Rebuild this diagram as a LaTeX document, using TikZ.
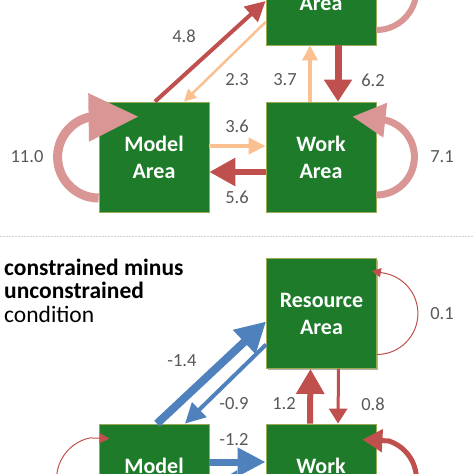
\documentclass[tikz,border=0pt]{standalone}
\usepackage{fontspec}
\setmainfont{Carlito}
\usetikzlibrary{arrows.meta,shadows}
\definecolor{AreaGreen}{HTML}{1E7B2A}
\definecolor{AreaRim}{HTML}{9AAA55}
\definecolor{FlowRed}{HTML}{C0504D}
\definecolor{FlowPeach}{HTML}{FAC090}
\definecolor{FlowPink}{HTML}{D99694}
\definecolor{FlowBlue}{HTML}{4F81BD}
\definecolor{LabelGray}{HTML}{595959}
\definecolor{RuleGray}{HTML}{D0D0D0}
\tikzset{
  area/.style={draw=AreaRim,fill=AreaGreen,line width=0.8pt,minimum size=110pt,
    inner sep=0pt,align=center,text=white,font=\bfseries\fontsize{22}{27}\selectfont,
    drop shadow={shadow xshift=1.2pt,shadow yshift=-1.2pt,opacity=0.3,fill=black}},
  weight/.style={text=LabelGray,inner sep=0pt,font=\fontsize{18.5}{22}\selectfont},
  heading/.style={anchor=base west,inner sep=0pt,font=\fontsize{23.5}{24}\selectfont},
  redflow/.style={draw=FlowRed},
  peachflow/.style={draw=FlowPeach},
  pinkflow/.style={draw=FlowPink},
  blueflow/.style={draw=FlowBlue},
  hd/.style 2 args={-{Triangle[width=#1,length=#2]}},
  rule/.style={draw=RuleGray,line width=0.8pt,dash pattern=on 1.5pt off 1.5pt}
}
\begin{document}
\begin{tikzpicture}[x=1pt,y=-1pt]
  \useasboundingbox (0,0) rectangle (474,474);
  \fill[white] (0,0) rectangle (474,474);
  \clip (0,0) rectangle (474,474);
  \node[area] (resA) at (321,-10) {Resource\\Area};
  \node[area] (modA) at (154,157) {Model\\Area};
  \node[area] (workA) at (321,157) {Work\\Area};
  \draw[redflow,line width=4pt,hd={20pt}{20pt}] ([xshift=1pt]modA.north) -- ([yshift=-11pt]resA.west);
  \draw[peachflow,line width=2.5pt,hd={12pt}{12pt}] ([yshift=-32pt]resA.west) -- ([xshift=30pt]modA.north);
  \draw[peachflow,line width=3.5pt,hd={15pt}{15pt}] ([xshift=-11pt]workA.north) -- ([xshift=-11pt]resA.south);
  \draw[redflow,line width=7pt,hd={27pt}{22pt}] ([xshift=17pt]resA.south) -- ([xshift=17pt]workA.north);
  \draw[peachflow,line width=4pt,hd={16pt}{17pt}] ([yshift=11pt]modA.east) -- ([yshift=11pt]workA.west);
  \draw[redflow,line width=6pt,hd={27pt}{26pt}] ([yshift=-15pt]workA.west) -- ([yshift=-15pt]modA.east);
  \draw[pinkflow,line width=9pt,hd={46pt}{50pt}] ([yshift=-41pt]modA.west)
    arc[start angle=90,end angle=255,radius=41] -- ([xshift=40pt,yshift=-15pt]modA.north west);
  \draw[pinkflow,line width=7pt,hd={33pt}{33pt}] ([yshift=-38pt]workA.east)
    arc[start angle=90,end angle=-75,radius=38] -- ([xshift=-24pt,yshift=-15pt]workA.north east);
  \draw[pinkflow,line width=6pt,hd={33pt}{33pt}] ([yshift=-40pt]resA.east)
    arc[start angle=90,end angle=-75,radius=40] -- ([xshift=-24pt,yshift=-15pt]resA.north east);
  \node[weight] (w48) at (184,36) {4.8};
  \node[weight] (w23) at (237,80) {2.3};
  \node[weight] (w37) at (285,80) {3.7};
  \node[weight] (w62) at (373,80) {6.2};
  \node[weight] (w36) at (237,126) {3.6};
  \node[weight] (w56) at (237,197) {5.6};
  \node[weight] (w110) at (27,157) {11.0};
  \node[weight] (w71) at (442,157) {7.1};
  \draw[rule] (0,236) -- (474,236);
  \node[heading] (t1) at (4,275) {\bfseries constrained minus};
  \node[heading] (t2) at (4,298.5) {\bfseries unconstrained};
  \node[heading] (t3) at (4,322) {condition};
  \node[area] (resB) at (321.5,313.5) {Resource\\Area};
  \node[area] (modB) at (154,479) {Model\\Area};
  \node[area] (workB) at (321,479) {Work\\Area};
  \draw[blueflow,line width=8pt,hd={31pt}{30pt}] ([xshift=3pt]modB.north) -- ([yshift=-8pt]resB.west);
  \draw[blueflow,line width=4pt,hd={20pt}{20pt}] ([yshift=-31pt]resB.west) -- ([xshift=31pt]modB.north);
  \draw[redflow,line width=6pt,hd={27pt}{25pt}] ([xshift=-11pt]workB.north) -- ([xshift=-11pt]resB.south);
  \draw[redflow,line width=3pt,hd={18pt}{15pt}] ([xshift=17pt]resB.south) -- ([xshift=17pt]workB.north);
  \draw[blueflow,line width=7pt,hd={27pt}{28pt}] ([yshift=17pt]modB.east) -- ([yshift=17pt]workB.west);
  \draw[blueflow,line width=7pt,hd={32pt}{28pt}] ([yshift=-8pt]workB.west) -- ([yshift=-8pt]modB.east);
  \draw[redflow,line width=1pt,hd={9pt}{9pt}] ([yshift=-41pt]resB.east)
    arc[start angle=90,end angle=-80,radius=41] -- ([xshift=-5pt,yshift=-13pt]resB.north east);
  \draw[redflow,line width=1pt,hd={10pt}{10pt}] ([yshift=-42pt]modB.west)
    arc[start angle=90,end angle=258,radius=42] -- ([xshift=11pt,yshift=-15pt]modB.north west);
  \draw[redflow,line width=5pt,hd={22pt}{20pt}] ([yshift=-40pt]workB.east)
    arc[start angle=90,end angle=-72,radius=40] -- ([xshift=-14pt,yshift=-16pt]workB.north east);
  \node[weight] (w01) at (442,314) {0.1};
  \node[weight] (wm14) at (182,361) {-1.4};
  \node[weight] (wm09) at (234,404) {-0.9};
  \node[weight] (w12) at (284,404) {1.2};
  \node[weight] (w08) at (373,404) {0.8};
  \node[weight] (wm12) at (234,440) {-1.2};
\end{tikzpicture}
\end{document}
